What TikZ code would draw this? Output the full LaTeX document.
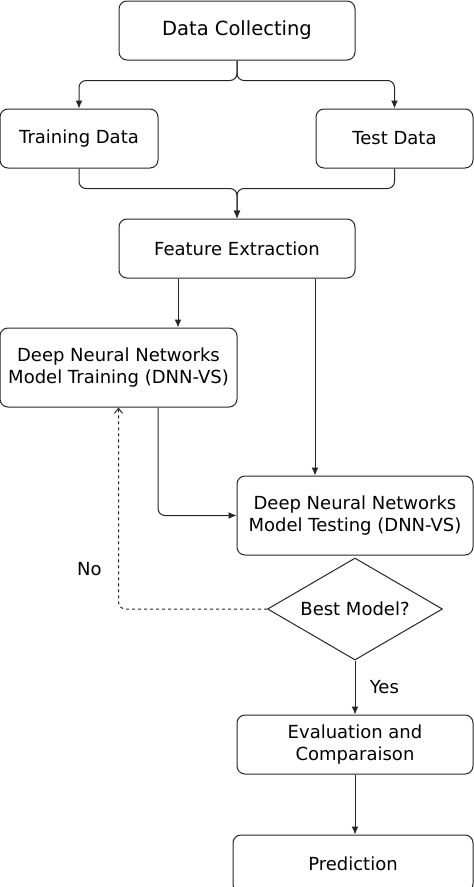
\documentclass[tikz,border=0pt]{standalone}
\usepackage{fontspec}
\setmainfont{DejaVu Sans}
\usetikzlibrary{arrows.meta,positioning,shapes.geometric}

\begin{document}
\begin{tikzpicture}[node distance=49pt, auto,
                    >={Latex[length=8pt,width=7pt]},
                    every node/.append style={align=center},
                    int/.style={draw=black!85, line width=1pt, rounded corners=8pt, minimum width=236pt, minimum height=59pt, inner sep=0pt, font=\fontsize{18}{21.5}\selectfont},
                    dec/.style={draw=black!85, line width=1pt, diamond, aspect=1.7, minimum width=175pt, minimum height=102pt, inner sep=0pt, font=\fontsize{18}{21.5}\selectfont},
                    lbl/.style={font=\fontsize{18}{21.5}\selectfont},
                    flow/.style={draw=black!85, line width=1pt, rounded corners=7pt}]
                   \useasboundingbox (0,0) rectangle (474pt,-887pt);

                   \node [int, font=\fontsize{19.5}{23}\selectfont] (DC) at (237pt,-30.5pt) {Data Collecting};
                   \node [int, minimum width=158pt, below=48pt of DC, xshift=-158pt] (TrD) {Training Data};
                   \node [int, minimum width=157pt, below=48pt of DC, xshift=157.5pt] (TeD) {Test Data};
                   \node [int, below=158pt of DC] (FE) {Feature Extraction};
                   \node [int, minimum width=237pt, minimum height=79pt, below=of FE, xshift=-118.5pt] (DNN_tr) {Deep Neural Networks\\Model Training (DNN-VS)};
                   \node [int, minimum height=79pt, below=68pt of DNN_tr, xshift=236.5pt] (DNN_te) {Deep Neural Networks\\Model Testing (DNN-VS)};
                   \node [dec, below=2pt of DNN_te] (best) {Best Model?};
                   \node [int, below=54pt of best] (eval) {Evaluation and\\Comparaison};
                   \node [int, minimum width=240pt, minimum height=57pt, below=60pt of eval, xshift=-2pt] (pred) {Prediction};

                   \draw[flow,->] (DC.south) -- ++(0,-20pt) -| (TrD.north);
                   \draw[flow,->] (DC.south) -- ++(0,-20pt) -| (TeD.north);
                   \draw[flow,->] (TrD.south) -- ++(0,-20pt) -| (FE.north);
                   \draw[flow,->] (TeD.south) -- ++(0,-20pt) -| (FE.north);

                   \draw[flow,->] ([xshift=-59pt]FE.south) -- ([xshift=-59pt]FE.south |- DNN_tr.north);
                   \draw[flow,->] ([xshift=78pt]FE.south) -- ([xshift=78pt]FE.south |- DNN_te.north);
                   \draw[flow,->] ([xshift=39.5pt]DNN_tr.south) |- (DNN_te.west);

                   \draw[flow,dashed,-{Straight Barb[length=5pt,width=8pt]}] (best.west) -| node[pos=0.6, left=13pt, lbl] {No} (DNN_tr.south); % back to training
                   \draw[flow,->] (best.south) -- node[right=11pt, lbl] {Yes} (eval.north);
                   \draw[flow,->] (eval.south) -- (eval.south |- pred.north);
                \end{tikzpicture}
\end{document}
